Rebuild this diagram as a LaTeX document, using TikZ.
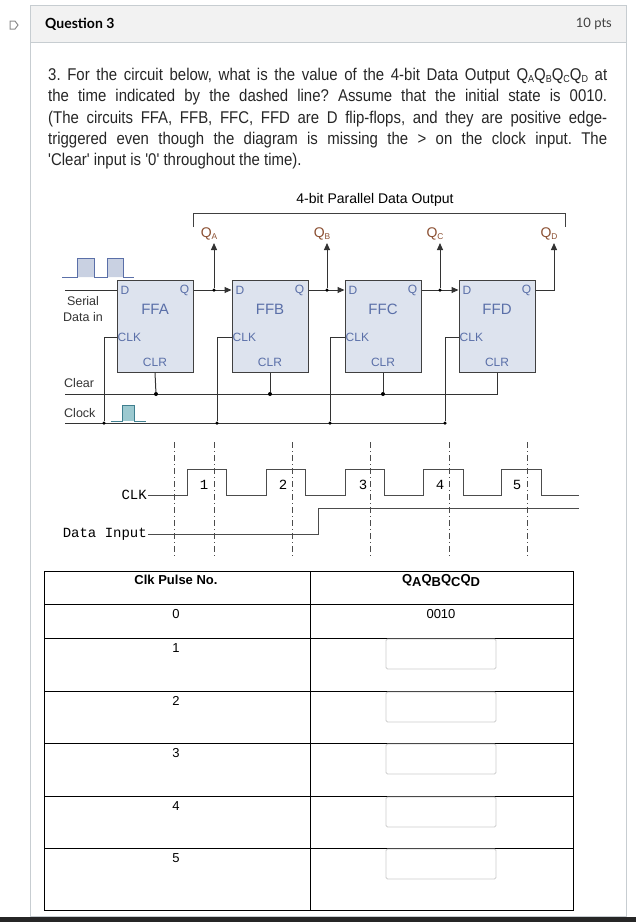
\documentclass[tikz,border=0pt]{standalone}
\usepackage{fontspec}
\usetikzlibrary{arrows.meta}
\newfontfamily\arial{Liberation Sans}[FakeStretch=0.88]
\newfontfamily\arialn{Liberation Sans}
\newfontfamily\latob{Lato Bold}
\newfontfamily\lato{Lato}
\newfontfamily\mono{Liberation Mono}
\definecolor{ffblue}{HTML}{5A6FA8}
\definecolor{ffbrown}{HTML}{8A4E30}
\definecolor{fffill}{HTML}{DDE3EE}
\definecolor{serfill}{HTML}{C9D1E2}
\definecolor{ckfill}{HTML}{9CC9D0}
\definecolor{ckline}{HTML}{3F7F8F}
\definecolor{cardgray}{HTML}{C7CDD1}
\newcommand{\sbs}[1]{\raisebox{-2pt}{\scalebox{0.6}{#1}}}
\tikzset{
  ffbox/.style={draw=black!75,fill=fffill,line width=1pt,minimum width=76pt,minimum height=92pt,inner sep=0pt},
  pin/.style={font=\arialn\fontsize{12}{12}\selectfont,text=ffblue,inner sep=0pt},
  wire/.style={line width=1pt,black!80},
  arr/.style={wire,-{Triangle[length=7pt,width=6pt]}},
  dot/.style={circle,fill=black,inner sep=0pt,minimum size=4pt},
  qlab/.style={font=\arialn\fontsize{14}{14}\selectfont,text=ffbrown,inner sep=0pt},
  tim/.style={line width=1pt,black!70},
  dsh/.style={line width=0.8pt,black!70,dash pattern=on 6pt off 3pt on 1pt off 3pt},
  tbl/.style={line width=1pt,black},
  ansbox/.style={draw=black!20,line width=0.8pt,rounded corners=1.5pt,minimum width=110pt,minimum height=30pt,inner sep=0pt},
  celltxt/.style={font=\arialn\fontsize{13}{13}\selectfont,inner sep=0pt}
}
\begin{document}
\begin{tikzpicture}[x=1pt,y=-1pt]
\useasboundingbox (0,0) rectangle (636,922);
% card
\draw[cardgray,line width=1pt] (30,5) rectangle (626,916);
\fill[black!5] (30.5,5.5) rectangle (625.5,42);
\draw[cardgray,line width=1pt] (30,42) -- (626,42);
\draw[black!45,line width=1pt] (10,21) -- (15,21) -- (18,25) -- (15,29) -- (10,29) -- cycle;
\fill[black!85] (0,917) rectangle (636,922);
\node[anchor=west,inner sep=0pt,font=\latob\fontsize{14}{14}\selectfont] (qtitle) at (45,24) {Question 3};
\node[anchor=east,inner sep=0pt,font=\lato\fontsize{13}{13}\selectfont,text=black!75] (pts) at (612,24) {10 pts};
% question text
\node[anchor=north west,inner sep=0pt,align=left,font=\arial\fontsize{17}{21.3}\selectfont\frenchspacing,text=black!85] (qtext) at (48,68) {%
\makebox[559pt][s]{3. For the circuit below, what is the value of the 4-bit Data Output Q\sbs{A}Q\sbs{B}Q\sbs{C}Q\sbs{D} at}\\
\makebox[559pt][s]{the time indicated by the dashed line? Assume that the initial state is 0010.}\\
\makebox[559pt][s]{(The circuits FFA, FFB, FFC, FFD are D flip-flops, and they are positive edge-}\\
\makebox[559pt][s]{triggered even though the diagram is missing the > on the clock input. The}\\
'Clear' input is '0' throughout the time).};
% circuit
\node[inner sep=0pt,font=\arialn\fontsize{14}{14}\selectfont] (title) at (375,200) {4-bit Parallel Data Output};
\coordinate (bl) at (193,227); \coordinate (br) at (565,227);
\draw[line width=0.9pt,black!75] (bl) -- (193,213) -- (565,213) -- (br);
\foreach \n/\x in {A/155,B/270,C/383,D/497}{
  \node[ffbox] (FF\n) at (\x,326) {};
  \node[pin,font=\arialn\fontsize{15}{15}\selectfont] (name\n) at (\x,309) {FF\n};
  \node[pin,anchor=west] (d\n) at ([xshift=4pt,yshift=36pt]FF\n.west) {D};
  \node[pin,anchor=east] (q\n) at ([xshift=-4pt,yshift=36pt]FF\n.east) {Q};
  \node[pin,anchor=west] (clk\n) at ([xshift=1pt,yshift=-11pt]FF\n.west) {CLK};
  \node[pin] (clr\n) at (\x,362) {CLR};
}
% outputs
\foreach \n/\x/\lx in {A/214/209,B/327/322,C/440/435,D/554/549}{
  \coordinate (o\n) at (\x,243);
  \node[qlab] (Q\n) at (\lx,234) {Q\sbs{\n}};
}
\draw[arr] (FFA.east |- 0,290) -- (FFB.west |- 0,290);
\draw[arr] (FFB.east |- 0,290) -- (FFC.west |- 0,290);
\draw[arr] (FFC.east |- 0,290) -- (FFD.west |- 0,290);
\foreach \n/\x in {A/214,B/327,C/440}{
  \node[dot,minimum size=3.5pt] (j\n) at (\x,290) {};
  \draw[arr] (j\n) -- (o\n);
}
\draw[arr] (FFD.east |- 0,290) -- (554,290) -- (oD);
% serial input
\coordinate (sin) at (65,290);
\draw[wire] (sin) -- (FFA.west |- sin);
\node[inner sep=0pt,font=\arialn\fontsize{12.5}{12.5}\selectfont,text=black!80] (ser) at (83,301) {Serial};
\node[inner sep=0pt,font=\arialn\fontsize{12.5}{12.5}\selectfont,text=black!80] (din) at (83,317) {Data in};
\fill[serfill] (77,277) rectangle (94,258) (107,277) rectangle (123,258);
\draw[draw=ffblue,line width=1pt] (62,277) -- (77,277) -- (77,258) -- (94,258) -- (94,277) -- (107,277) -- (107,258) -- (123,258) -- (123,277) -- (134,277);
% clear & clock
\node[inner sep=0pt,font=\arialn\fontsize{12.5}{12.5}\selectfont,text=black!80,anchor=west] (clearlab) at (64,383) {Clear};
\node[inner sep=0pt,font=\arialn\fontsize{12.5}{12.5}\selectfont,text=black!80,anchor=west] (clocklab) at (64,413) {Clock};
\coordinate (clr0) at (65,394);
\draw[wire] (clr0) -- (497,394) -- (FFD.south);
\foreach \n/\x in {A/156,B/270,C/383}{
  \node[dot] (cd\n) at (\x,394) {};
  \draw[wire] (cd\n) -- (FF\n.south);
}
\coordinate (ck0) at (65,423);
\draw[wire] (ck0) -- (445,423);
\foreach \n/\x in {A/104,B/217,C/330,D/445}{
  \node[dot,minimum size=3.5pt] (kd\n) at (\x,423) {};
  \draw[wire] (kd\n) -- (\x,337) -- (FF\n.west |- 0,337);
}
\fill[ckfill] (122,421) rectangle (134,405);
\draw[draw=ckline,line width=1pt] (111,421) -- (122,421) -- (122,405) -- (134,405) -- (134,421) -- (146,421);
% timing diagram
\foreach \x [count=\i] in {174,214,292,370,449,527}{
  \coordinate (dt\i) at (\x,442); \coordinate (db\i) at (\x,556);
  \draw[dsh] (dt\i) -- (db\i);
}
\node[anchor=east,inner sep=1pt,font=\mono\fontsize{14}{14}\selectfont] (clkl) at (148,495) {CLK};
\node[anchor=east,inner sep=1pt,font=\mono\fontsize{14}{14}\selectfont] (datal) at (148,534) {Data Input};
\draw[tim] (clkl.east) -- (187,495) -- (187,469) -- (226,469) -- (226,495) -- (266,495) -- (266,469) -- (305,469) -- (305,495) -- (345,495) -- (345,469) -- (384,469) -- (384,495) -- (423,495) -- (423,469) -- (463,469) -- (463,495) -- (501,495) -- (501,469) -- (541,469) -- (541,495) -- (579,495);
\draw[tim] (datal.east) -- (318,534) -- (318,508) -- (579,508);
\foreach \x/\t in {204/1,283/2,363/3,440/4,517/5}
  \node[inner sep=0pt,font=\mono\fontsize{14}{14}\selectfont] (num\t) at (\x,485) {\t};
% table
\draw[tbl] (44,571) rectangle (573,910);
\draw[tbl] (310,571) -- (310,910);
\foreach \y in {604,638,691,743,796,848} \draw[tbl] (44,\y) -- (573,\y);
\node[celltxt,font=\arialn\bfseries\fontsize{13}{13}\selectfont] (h1) at (176,580) {Clk Pulse No.};
\node[celltxt,font=\arialn\bfseries\fontsize{13}{13}\selectfont] (h2) at (441,581) {Q\raisebox{-3pt}{A}Q\raisebox{-3pt}{B}Q\raisebox{-3pt}{C}Q\raisebox{-3pt}{D}};
\node[celltxt] (r0) at (176,614) {0};
\node[celltxt] (v0) at (441,614) {0010};
\foreach \t/\y in {1/638,2/691,3/743,4/796,5/848}{
  \node[celltxt] (r\t) at (176,\y+10) {\t};
  \node[ansbox] (a\t) at (441,\y+16) {};
}
\end{tikzpicture}
\end{document}
